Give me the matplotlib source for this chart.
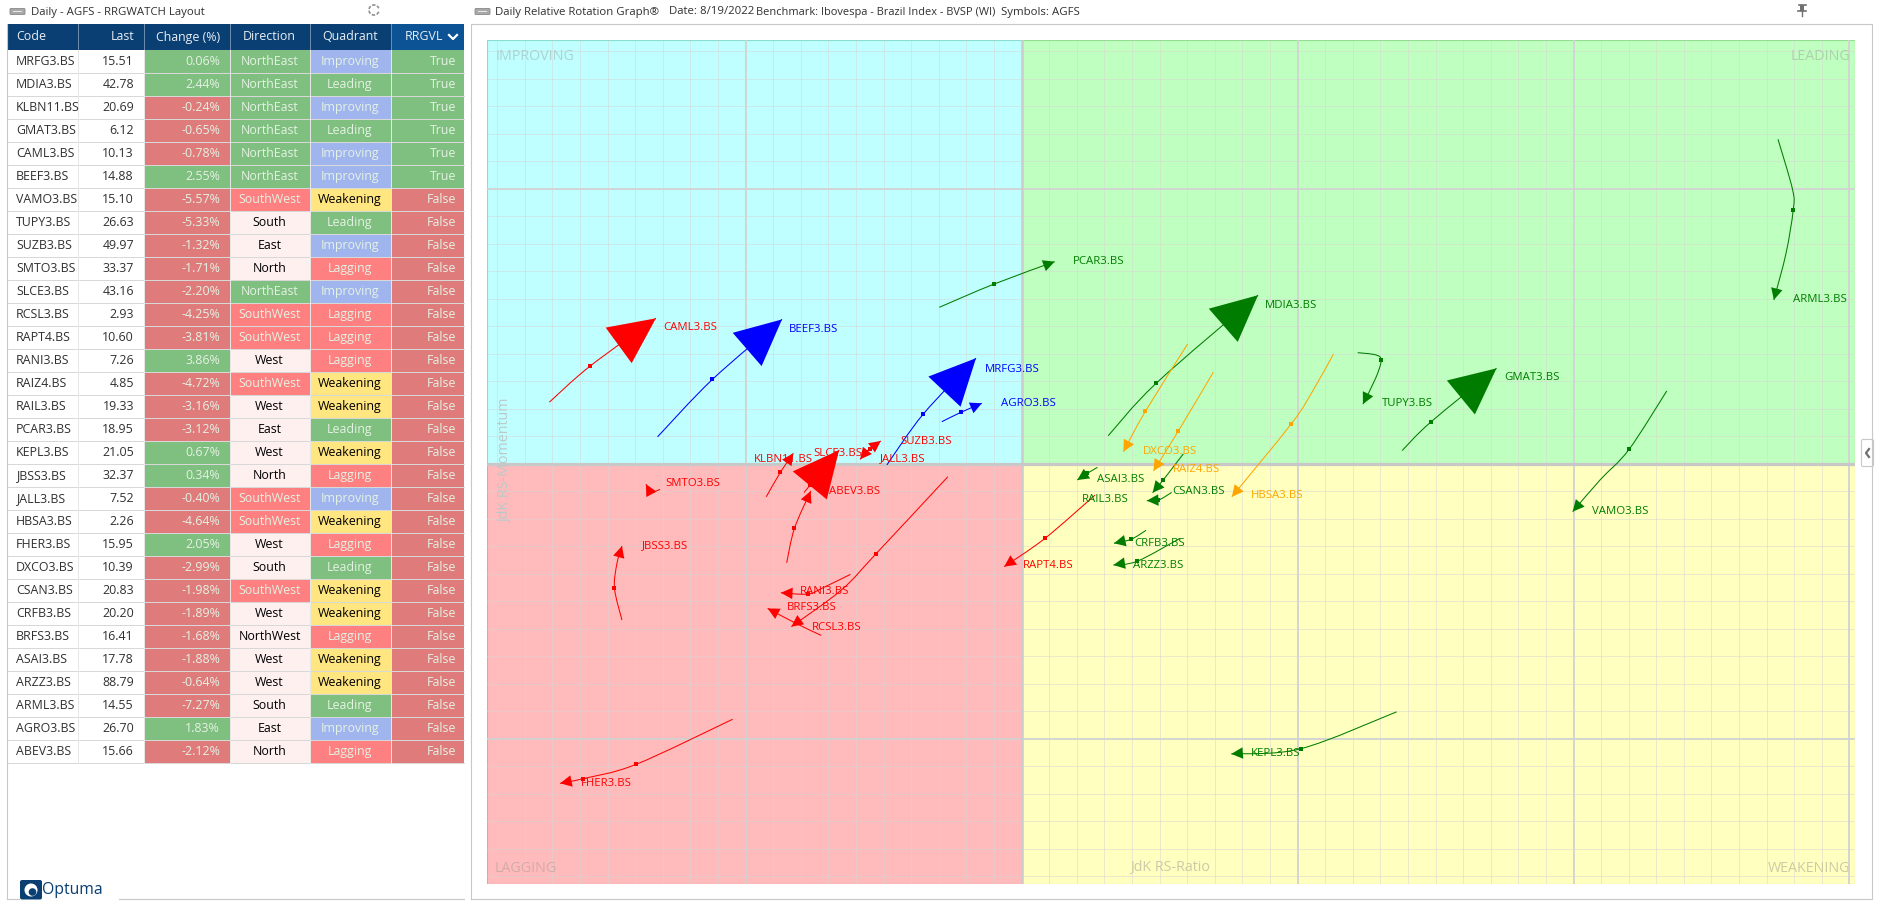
import matplotlib
matplotlib.use('Agg')
import matplotlib.pyplot as plt
from matplotlib.patches import Rectangle, FancyBboxPatch, Circle, Arc, PathPatch, Polygon
from matplotlib.path import Path
import numpy as np

plt.rcParams['font.family'] = ['Open Sans', 'DejaVu Sans']

# watchlist table
codes = ['MRFG3.BS', 'MDIA3.BS', 'KLBN11.BS', 'GMAT3.BS', 'CAML3.BS', 'BEEF3.BS', 'VAMO3.BS', 'TUPY3.BS',
         'SUZB3.BS', 'SMTO3.BS', 'SLCE3.BS', 'RCSL3.BS', 'RAPT4.BS', 'RANI3.BS', 'RAIZ4.BS', 'RAIL3.BS',
         'PCAR3.BS', 'KEPL3.BS', 'JBSS3.BS', 'JALL3.BS', 'HBSA3.BS', 'FHER3.BS', 'DXCO3.BS', 'CSAN3.BS',
         'CRFB3.BS', 'BRFS3.BS', 'ASAI3.BS', 'ARZZ3.BS', 'ARML3.BS', 'AGRO3.BS', 'ABEV3.BS']
last = ['15.51', '42.78', '20.69', '6.12', '10.13', '14.88', '15.10', '26.63', '49.97', '33.37', '43.16',
        '2.93', '10.60', '7.26', '4.85', '19.33', '18.95', '21.05', '32.37', '7.52', '2.26', '15.95',
        '10.39', '20.83', '20.20', '16.41', '17.78', '88.79', '14.55', '26.70', '15.66']
change = [0.06, 2.44, -0.24, -0.65, -0.78, 2.55, -5.57, -5.33, -1.32, -1.71, -2.20, -4.25, -3.81, 3.86,
          -4.72, -3.16, -3.12, 0.67, 0.34, -0.40, -4.64, 2.05, -2.99, -1.98, -1.89, -1.68, -1.88, -0.64,
          -7.27, 1.83, -2.12]
direction = ['NorthEast'] * 6 + ['SouthWest', 'South', 'East', 'North', 'NorthEast', 'SouthWest', 'SouthWest',
             'West', 'SouthWest', 'West', 'East', 'West', 'North', 'SouthWest', 'SouthWest', 'West', 'South',
             'SouthWest', 'West', 'NorthWest', 'West', 'West', 'South', 'East', 'North']
quadrant = ['Improving', 'Leading', 'Improving', 'Leading', 'Improving', 'Improving', 'Weakening', 'Leading',
            'Improving', 'Lagging', 'Improving', 'Lagging', 'Lagging', 'Lagging', 'Weakening', 'Weakening',
            'Leading', 'Weakening', 'Lagging', 'Improving', 'Weakening', 'Lagging', 'Leading', 'Weakening',
            'Weakening', 'Lagging', 'Weakening', 'Weakening', 'Leading', 'Improving', 'Lagging']
rrgvl = ['True'] * 6 + ['False'] * 25

# RS-Ratio / RS-Momentum tails, oldest point first, last point is the arrow tip
tails = {
    'CAML3.BS': ([98.289, 98.435, 98.675], [100.223, 100.353, 100.528]),
    'BEEF3.BS': ([98.681, 98.880, 99.132], [100.097, 100.306, 100.524]),
    'MRFG3.BS': ([99.512, 99.644, 99.835], [99.995, 100.180, 100.383]),
    'AGRO3.BS': ([99.711, 99.780, 99.856], [100.152, 100.186, 100.219]),
    'PCAR3.BS': ([99.702, 99.899, 100.120], [100.568, 100.652, 100.734]),
    'MDIA3.BS': ([100.314, 100.488, 100.857], [100.101, 100.292, 100.612]),
    'ARML3.BS': ([102.741, 102.794, 102.796, 102.770, 102.726], [101.179, 100.995, 100.921, 100.764, 100.595]),
    'TUPY3.BS': ([101.218, 101.283, 101.303, 101.283, 101.237], [100.403, 100.395, 100.375, 100.310, 100.216]),
    'GMAT3.BS': ([101.379, 101.482, 101.721], [100.047, 100.150, 100.346]),
    'VAMO3.BS': ([102.338, 102.201, 102.096, 101.997], [100.264, 100.051, 99.940, 99.825]),
    'DXCO3.BS': ([100.602, 100.449, 100.369], [100.435, 100.190, 100.043]),
    'RAIZ4.BS': ([100.695, 100.568, 100.478], [100.332, 100.118, 99.973]),
    'HBSA3.BS': ([101.130, 101.057, 100.978, 100.762], [100.398, 100.267, 100.145, 99.879]),
    'ASAI3.BS': ([100.275, 100.238, 100.202], [99.986, 99.964, 99.940]),
    'RAIL3.BS': ([100.586, 100.514, 100.475], [100.035, 99.941, 99.894]),
    'CSAN3.BS': ([100.544, 100.496, 100.454], [99.895, 99.867, 99.865]),
    'CRFB3.BS': ([100.451, 100.396, 100.335], [99.757, 99.724, 99.710]),
    'ARZZ3.BS': ([100.574, 100.420, 100.333], [99.728, 99.645, 99.631]),
    'RAPT4.BS': ([100.266, 100.085, 99.937], [99.885, 99.728, 99.625]),
    'KEPL3.BS': ([101.359, 101.012, 100.760], [99.097, 98.963, 98.944]),
    'FHER3.BS': ([98.953, 98.603, 98.411, 98.328], [99.070, 98.906, 98.854, 98.837]),
    'SMTO3.BS': ([98.690, 98.655, 98.639], [99.906, 99.895, 99.925]),
    'JBSS3.BS': ([98.552, 98.525, 98.534, 98.552], [99.431, 99.546, 99.637, 99.700]),
    'KLBN11.BS': ([99.075, 99.126, 99.173], [99.879, 99.968, 100.037]),
    'SLCE3.BS': ([99.149, 99.177, 99.236], [99.639, 99.764, 99.900]),
    'ABEV3.BS': ([99.212, 99.234, 99.339], [99.894, 99.922, 100.049]),
    'SUZB3.BS': ([99.422, 99.451, 99.490], [100.027, 100.053, 100.082]),
    'JALL3.BS': ([99.455, 99.437, 99.415], [100.060, 100.042, 100.015]),
    'RANI3.BS': ([99.380, 99.276, 99.225, 99.128], [99.597, 99.546, 99.525, 99.530]),
    'RCSL3.BS': ([99.733, 99.471, 99.347, 99.166], [99.952, 99.670, 99.540, 99.407]),
    'BRFS3.BS': ([99.274, 99.182, 99.080], [99.375, 99.419, 99.473]),
}
# which tail points get the little square
tail_dots = {'ARML3.BS': [2], 'TUPY3.BS': [2], 'VAMO3.BS': [1], 'HBSA3.BS': [2], 'FHER3.BS': [1, 2],
             'JBSS3.BS': [1], 'RANI3.BS': [2], 'RCSL3.BS': [1]}

big_heads = ['CAML3.BS', 'BEEF3.BS', 'MRFG3.BS', 'MDIA3.BS', 'GMAT3.BS', 'ABEV3.BS']

green, blue, red, orange = '#007C00', '#0000FF', '#FF0000', '#FFA500'
blue_syms = ['BEEF3.BS', 'MRFG3.BS', 'AGRO3.BS']
orange_syms = ['DXCO3.BS', 'RAIZ4.BS', 'HBSA3.BS']
red_syms = ['CAML3.BS', 'SMTO3.BS', 'JBSS3.BS', 'KLBN11.BS', 'SLCE3.BS', 'ABEV3.BS', 'SUZB3.BS', 'JALL3.BS',
            'RANI3.BS', 'BRFS3.BS', 'RCSL3.BS', 'RAPT4.BS', 'FHER3.BS']

# label anchors on the page, left edge and vertical middle
label_pos = {
    'CAML3.BS': (663, 327), 'BEEF3.BS': (789, 329), 'MRFG3.BS': (985, 369), 'AGRO3.BS': (1001, 403),
    'PCAR3.BS': (1073, 261), 'MDIA3.BS': (1265, 306), 'ARML3.BS': (1793, 299), 'TUPY3.BS': (1382, 403),
    'GMAT3.BS': (1504, 378), 'VAMO3.BS': (1592, 511), 'DXCO3.BS': (1143, 451), 'RAIZ4.BS': (1173, 470),
    'HBSA3.BS': (1251, 496), 'ASAI3.BS': (1097, 479), 'RAIL3.BS': (1082, 500), 'CSAN3.BS': (1172, 492),
    'CRFB3.BS': (1134, 543), 'ARZZ3.BS': (1133, 565), 'RAPT4.BS': (1023, 566), 'KEPL3.BS': (1251, 754),
    'FHER3.BS': (581, 783), 'SMTO3.BS': (665, 484), 'JBSS3.BS': (642, 546), 'KLBN11.BS': (754, 460),
    'SLCE3.BS': (813, 453), 'ABEV3.BS': (829, 491), 'SUZB3.BS': (900, 441), 'JALL3.BS': (880, 459),
    'RANI3.BS': (800, 592), 'BRFS3.BS': (787, 608), 'RCSL3.BS': (812, 627),
}

CELL_GREEN, CELL_RED, CELL_SALMON = '#7FBF7F', '#E07B7B', '#FF8080'
CELL_BLUE, CELL_YELLOW, CELL_PALE = '#A0B4EE', '#FFE680', '#FFF0F0'
LIGHT_TEXT = '#E4F2E4'
TEXT = '#303030'
BORDER = '#C8C8C8'
FS = 8.9

W, H = 1878, 907
fig = plt.figure(figsize=(W / 100, H / 100), dpi=100)

ax = fig.add_axes([487 / W, 1 - 884 / H, (1855 - 487) / W, (884 - 40) / H])
ax.set_xlim(98.063, 103.020)
ax.set_ylim(98.471, 101.540)
ax.axis('off')

# quadrants
xmin, xmax = ax.get_xlim()
ymin, ymax = ax.get_ylim()
ax.add_patch(Rectangle((xmin, 100), 100 - xmin, ymax - 100, fc='#BFFFFF', ec='#8ADBD0', lw=0.8, zorder=0))
ax.add_patch(Rectangle((100, 100), xmax - 100, ymax - 100, fc='#BFFFBF', ec='#94DC94', lw=0.8, zorder=0))
ax.add_patch(Rectangle((xmin, ymin), 100 - xmin, 100 - ymin, fc='#FFBBBB', ec='#CFA8A8', lw=0.8, zorder=0))
ax.add_patch(Rectangle((100, ymin), xmax - 100, 100 - ymin, fc='#FFFFBF', ec='#D0D0B0', lw=0.8, zorder=0))

# grid
for v in np.arange(98.1, 103.01, 0.1):
    if abs(v - round(v)) > 0.01:
        ax.plot([v, v], [ymin, ymax], color='#D6D6D6', lw=0.72, ls=(0, (1, 1)), zorder=1)
for v in np.arange(98.5, 101.51, 0.1):
    if abs(v - round(v)) > 0.01:
        ax.plot([xmin, xmax], [v, v], color='#D6D6D6', lw=0.72, ls=(0, (1, 1)), zorder=1)
for v in [99, 101, 102, 103]:
    ax.plot([v, v], [ymin, ymax], color='#D2D2D2', lw=1.3, zorder=1)
for v in [99, 101]:
    ax.plot([xmin, xmax], [v, v], color='#D2D2D2', lw=1.3, zorder=1)
ax.plot([100, 100], [ymin, ymax], color='#CCCCCC', lw=1.8, zorder=1)
ax.plot([xmin, xmax], [100, 100], color='#C8C8C8', lw=2.3, zorder=1)


def smooth_path(xs, ys):
    # catmull-rom through the read points, as a bezier path
    pts = np.column_stack([xs, ys])
    verts, codes_ = [pts[0]], [Path.MOVETO]
    for i in range(len(pts) - 1):
        p0 = pts[max(i - 1, 0)]
        p1, p2 = pts[i], pts[i + 1]
        p3 = pts[min(i + 2, len(pts) - 1)]
        verts += [p1 + (p2 - p0) / 6, p2 - (p3 - p1) / 6, p2]
        codes_ += [Path.CURVE4] * 3
    return Path(verts, codes_)


def draw_tail(sym, is_big):
    xs, ys = tails[sym]
    c = blue if sym in blue_syms else orange if sym in orange_syms else red if sym in red_syms else green
    ax.add_patch(PathPatch(smooth_path(xs, ys), fc='none', ec=c, lw=0.75, zorder=3))
    for i in tail_dots.get(sym, [1]):
        ax.plot(xs[i], ys[i], 's', color=c, ms=2.4, mew=0, zorder=4)
    # arrow head
    tip = np.array([xs[-1], ys[-1]])
    d = tip - np.array([xs[-2], ys[-2]])
    d = d / np.hypot(*d)
    n = np.array([-d[1], d[0]])
    length, half = (0.167, 0.080) if is_big else (0.042, 0.021)
    base = tip - d * length
    ax.add_patch(Polygon([tip, base + n * half, base - n * half], closed=True, fc=c, ec='none', zorder=5))
    return c


sym_color = {}
for sym in codes:
    sym_color[sym] = draw_tail(sym, sym in big_heads)

# page overlay in pixels: table, panel chrome, labels
page = fig.add_axes([0, 0, 1, 1], zorder=5)
page.set_xlim(0, W)
page.set_ylim(H, 0)
page.axis('off')
page.patch.set_alpha(0)

for sym, (lx, ly) in label_pos.items():
    page.text(lx, ly, sym, color=sym_color[sym], fontsize=8.2, ha='left', va='center')

page.text(496, 57, 'IMPROVING', color='#ABD2D2', fontsize=10.3, ha='left', va='center')
page.text(1850, 57, 'LEADING', color='#ABD2AB', fontsize=10.3, ha='right', va='center')
page.text(495, 869, 'LAGGING', color='#D2ABAB', fontsize=10.3, ha='left', va='center')
page.text(1850, 869, 'WEAKENING', color='#CBCBA5', fontsize=10.3, ha='right', va='center')
page.text(1170, 867, 'JdK RS-Ratio', color='#CBCBA8', fontsize=10.3, ha='center', va='center')
page.text(506, 461, 'JdK RS-Momentum', color='#BCC8C8', fontsize=10.3, rotation=90, ha='center', va='center')

# table
col_edges = [7, 77.5, 143.5, 229.5, 310, 390.5, 464]
row_h = 23
top = 49.5
NAVY = '#0A3F73'
page.add_patch(Rectangle((7, 24), 384, 25.5, fc=NAVY, ec='none'))
page.add_patch(Rectangle((390.5, 24), 73.5, 25.5, fc='#0B5394', ec='none'))
for x in col_edges[1:-1]:
    page.plot([x, x], [24, 49.5], color='#6F8FAF', lw=0.7)
hy = 37
page.text(16, hy, 'Code', color='#E8EEF4', fontsize=FS, va='center')
page.text(134, hy, 'Last', color='#E8EEF4', fontsize=FS, va='center', ha='right')
page.text(220, hy, 'Change (%)', color='#E8EEF4', fontsize=FS, va='center', ha='right')
page.text(269.5, hy, 'Direction', color='#E8EEF4', fontsize=FS, va='center', ha='center')
page.text(350, hy, 'Quadrant', color='#E8EEF4', fontsize=FS, va='center', ha='center')
page.text(405, hy, 'RRGVL', color='#E8EEF4', fontsize=FS, va='center')
page.plot([449, 453, 457], [35, 39, 35], color='white', lw=1.6)

quad_fill = {'Improving': CELL_BLUE, 'Leading': CELL_GREEN, 'Lagging': CELL_SALMON, 'Weakening': CELL_YELLOW}
for i, code in enumerate(codes):
    y0 = top + i * row_h
    yc = y0 + row_h / 2 + 0.3
    page.add_patch(Rectangle((col_edges[2], y0), col_edges[3] - col_edges[2], row_h,
                             fc=CELL_GREEN if change[i] >= 0 else CELL_RED, ec='none'))
    dir_fill = CELL_GREEN if direction[i] == 'NorthEast' else CELL_SALMON if direction[i] == 'SouthWest' else CELL_PALE
    page.add_patch(Rectangle((col_edges[3], y0), col_edges[4] - col_edges[3], row_h, fc=dir_fill, ec='none'))
    page.add_patch(Rectangle((col_edges[4], y0), col_edges[5] - col_edges[4], row_h, fc=quad_fill[quadrant[i]], ec='none'))
    page.add_patch(Rectangle((col_edges[5], y0), col_edges[6] - col_edges[5], row_h,
                             fc=CELL_GREEN if rrgvl[i] == 'True' else CELL_RED, ec='none'))
    page.text(16, yc, code, color=TEXT, fontsize=FS, va='center')
    page.text(134, yc, last[i], color=TEXT, fontsize=FS, va='center', ha='right')
    page.text(220, yc, '%.2f%%' % change[i], color=LIGHT_TEXT, fontsize=FS, va='center', ha='right')
    page.text(269.5, yc, direction[i], fontsize=FS, va='center', ha='center',
              color='black' if dir_fill == CELL_PALE else LIGHT_TEXT)
    page.text(350, yc, quadrant[i], fontsize=FS, va='center', ha='center',
              color='black' if quadrant[i] == 'Weakening' else LIGHT_TEXT)
    page.text(456, yc, rrgvl[i], color=LIGHT_TEXT, fontsize=FS, va='center', ha='right')
    page.plot([7, 464], [y0 + row_h, y0 + row_h], color='#D8D8D8', lw=0.72)
for x in col_edges[1:-1]:
    page.plot([x, x], [49.5, top + len(codes) * row_h], color='#E6E6E6', lw=0.72)

# panel chrome
page.plot([6.5, 6.5], [24, 899], color=BORDER, lw=0.8)
page.plot([6.5, 19], [899, 899], color=BORDER, lw=0.8)
page.plot([119, 464], [899, 899], color=BORDER, lw=0.8)
page.plot([471, 471, 1872, 1872, 471], [899, 23.5, 23.5, 899, 899], color=BORDER, lw=0.8)

for cx in [10, 475]:
    page.add_patch(FancyBboxPatch((cx + 1, 9.5), 13, 4, boxstyle='round,pad=1', fc='#A8A8A8', ec='#888888', lw=0.6))
    page.add_patch(Rectangle((cx + 3, 10.8), 9, 1.5, fc='#E8E8E8', ec='none'))
page.text(31, 12, 'Daily - AGFS - RRGWATCH Layout', color=TEXT, fontsize=8.2, va='center')
page.text(495, 12, 'Daily Relative Rotation Graph®', color=TEXT, fontsize=8.2, va='center')
page.text(669, 12, 'Date: 8/19/2022', color=TEXT, fontsize=8.2, va='center')
page.text(756, 12, 'Benchmark: Ibovespa - Brazil Index - BVSP (WI)', color=TEXT, fontsize=7.9, va='center')
page.text(1001, 12, 'Symbols: AGFS', color=TEXT, fontsize=8.2, va='center')

# refresh and pin icons
page.add_patch(Arc((374, 10), 10, 10, theta1=20, theta2=340, ec='#909090', lw=1.2, ls=(0, (2, 1))))
page.add_patch(Rectangle((1800, 5), 4, 6, fc='#707070', ec='none'))
page.plot([1798, 1806], [11, 11], color='#707070', lw=1.2)
page.plot([1798.5, 1805.5], [5, 5], color='#707070', lw=1.2)
page.plot([1802, 1802], [11, 16], color='#707070', lw=1)

# collapse tab
page.add_patch(FancyBboxPatch((1863, 441), 9, 24, boxstyle='round,pad=1.5', fc='white', ec=BORDER, lw=0.8))
page.plot([1869, 1866, 1869], [449, 453, 457], color='#707070', lw=1.6)

# logo
page.add_patch(FancyBboxPatch((22, 882), 18, 15.5, boxstyle='round,pad=2', fc='#0A3F73', ec='none'))
page.add_patch(Circle((31, 890), 6.5, fc='white', ec='none'))
page.add_patch(Circle((32.5, 892), 3.8, fc='#0A3F73', ec='none'))
page.text(42, 890, 'Optuma', color='#0A3F73', fontsize=11.3, va='center', ha='left', fontweight='medium')

fig.savefig('out.png', dpi=100)
